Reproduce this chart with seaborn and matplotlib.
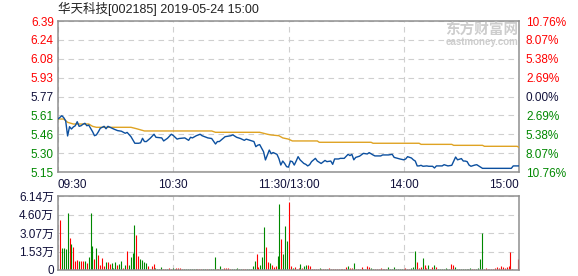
import numpy as np
import pandas as pd
import matplotlib
matplotlib.use("Agg")
import matplotlib.pyplot as plt
import seaborn as sns

# ---------------- data ----------------
title = "华天科技[002185] 2019-05-24 15:00"
prev_close = 5.77
price_ticks = [5.150, 5.305, 5.460, 5.615, 5.770, 5.925, 6.080, 6.235, 6.390]
price_tick_labels = ["5.15", "5.30", "5.46", "5.61", "5.77", "5.93", "6.08", "6.24", "6.39"]
pct_tick_labels = ["10.76%", "8.07%", "5.38%", "2.69%", "0.00%", "2.69%", "5.38%", "8.07%", "10.76%"]
time_ticks = [0, 60, 120, 180, 240]
time_labels = ["09:30", "10:30", "11:30/13:00", "14:00", "15:00"]
vol_ticks = [0, 1.535, 3.07, 4.605, 6.14]
vol_tick_labels = ["0", "1.53万", "3.07万", "4.60万", "6.14万"]

# minute index (0 = 09:30, 120 = 11:30/13:00, 240 = 15:00) and price
price_minute = [0, 2, 3, 4, 5, 6, 7, 8, 9, 10,
                11, 12, 13, 14, 15, 16, 18, 19, 20, 21,
                22, 24, 25, 26, 27, 29, 31, 33, 35, 36,
                38, 40, 42, 43, 44, 45, 46, 48, 50, 51,
                54, 55, 57, 59, 60, 62, 63, 66, 68, 69,
                70, 72, 74, 75, 78, 80, 82, 83, 84, 86,
                87, 90, 91, 93, 95, 97, 98, 100, 102, 103,
                104, 105, 107, 108, 109, 110, 111, 112, 114, 115,
                116, 117, 118, 119, 120, 121, 122, 123, 124, 125,
                126, 128, 129, 130, 131, 132, 134, 135, 137, 139,
                140, 142, 143, 144, 146, 147, 149, 151, 152, 153,
                154, 155, 157, 159, 161, 162, 164, 165, 168, 169,
                172, 174, 175, 178, 180, 181, 182, 184, 185, 186,
                187, 188, 189, 190, 192, 193, 195, 196, 197, 200,
                201, 203, 205, 206, 207, 208, 210, 211, 212, 213,
                214, 215, 217, 218, 219, 221, 236, 237, 240]
price_value = [5.585, 5.612, 5.596, 5.570, 5.446, 5.522, 5.503, 5.520, 5.530, 5.563,
               5.525, 5.530, 5.542, 5.550, 5.530, 5.535, 5.481, 5.448, 5.455, 5.480,
               5.509, 5.525, 5.505, 5.525, 5.518, 5.503, 5.490, 5.485, 5.468, 5.475,
               5.440, 5.386, 5.386, 5.390, 5.427, 5.400, 5.400, 5.427, 5.460, 5.435,
               5.430, 5.405, 5.427, 5.460, 5.450, 5.420, 5.425, 5.430, 5.410, 5.435,
               5.430, 5.448, 5.460, 5.448, 5.430, 5.425, 5.380, 5.400, 5.400, 5.427,
               5.440, 5.448, 5.455, 5.435, 5.425, 5.410, 5.420, 5.410, 5.400, 5.358,
               5.370, 5.375, 5.317, 5.249, 5.290, 5.330, 5.300, 5.310, 5.295, 5.260,
               5.207, 5.240, 5.220, 5.194, 5.190, 5.240, 5.235, 5.207, 5.240, 5.276,
               5.250, 5.220, 5.213, 5.200, 5.210, 5.235, 5.262, 5.240, 5.220, 5.245,
               5.235, 5.240, 5.213, 5.257, 5.257, 5.262, 5.262, 5.295, 5.285, 5.295,
               5.250, 5.270, 5.280, 5.303, 5.298, 5.309, 5.290, 5.282, 5.282, 5.290,
               5.290, 5.295, 5.270, 5.257, 5.250, 5.257, 5.276, 5.265, 5.250, 5.240,
               5.200, 5.200, 5.205, 5.197, 5.200, 5.197, 5.197, 5.183, 5.200, 5.200,
               5.210, 5.200, 5.205, 5.240, 5.273, 5.250, 5.260, 5.240, 5.240, 5.235,
               5.207, 5.197, 5.207, 5.210, 5.200, 5.180, 5.180, 5.200, 5.200]

# average price line
avg_minute = [0, 3, 5, 8, 16, 18, 20, 38, 41, 45, 80, 82, 105, 107, 109, 111,
              115, 117, 120, 122, 135, 136, 163, 164, 188, 189, 205, 206, 221, 222, 239, 240]
avg_value = [5.585, 5.585, 5.558, 5.544, 5.544, 5.525, 5.517, 5.517, 5.505, 5.487, 5.487, 5.476,
             5.476, 5.468, 5.460, 5.454, 5.448, 5.430, 5.420, 5.405, 5.405, 5.394, 5.394, 5.386,
             5.386, 5.377, 5.377, 5.369, 5.369, 5.361, 5.361, 5.353]

# volume per minute (万), 241 bars, and direction (r = up, g = down)
volume = [4.15, 1.80, 1.80, 1.71, 4.70, 2.63, 2.16, 1.88, 0.77, 0.83,
          0.75, 0.75, 0.75, 0.75, 0.55, 1.05, 4.70, 2.00, 0.91, 1.80,
          1.24, 0.41, 0.97, 0.33, 0.66, 0.66, 0.50, 0.55, 0.17, 0.66,
          0.39, 0.50, 0.75, 0.17, 0.39, 1.55, 0.45, 1.05, 1.38, 3.73,
          2.90, 1.16, 0.89, 0.80, 0.69, 0.55, 0.33, 0.08, 0.33, 0.50,
          0.17, 0.08, 0.08, 0.25, 0.08, 0.08, 0.08, 0.17, 0.08, 0.17,
          0.08, 0.17, 0.17, 0.17, 0.08, 0.08, 0.08, 0.08, 0.08, 0.08,
          0.08, 0.08, 0.08, 0.08, 0.08, 0.08, 0.08, 0.08, 0.08, 0.08,
          0.08, 1.08, 0.08, 0.08, 0.33, 0.08, 0.17, 0.17, 0.17, 0.08,
          0.08, 0.08, 0.08, 0.17, 0.08, 0.08, 0.08, 0.08, 0.08, 0.08,
          0.08, 0.33, 0.75, 1.33, 0.22, 0.41, 1.08, 3.60, 1.94, 0.69,
          0.58, 0.41, 0.28, 0.36, 1.16, 5.48, 2.57, 1.33, 3.65, 2.43,
          5.67, 0.33, 0.14, 0.22, 0.08, 0.17, 0.50, 0.17, 0.33, 0.41,
          0.41, 0.33, 0.08, 0.08, 0.08, 0.08, 0.17, 0.08, 0.08, 0.08,
          0.08, 0.17, 0.08, 0.08, 0.08, 0.08, 0.08, 0.08, 0.08, 0.08,
          0.25, 0.33, 0.17, 0.17, 0.58, 0.08, 0.08, 0.08, 0.25, 0.08,
          0.08, 0.33, 0.25, 0.17, 0.08, 0.08, 0.08, 0.08, 0.17, 0.08,
          0.08, 0.08, 0.25, 0.08, 0.08, 0.25, 0.08, 0.08, 0.08, 0.08,
          0.08, 0.17, 0.08, 0.08, 0.17, 0.28, 1.58, 0.66, 0.17, 0.25,
          1.00, 0.41, 0.17, 0.41, 0.08, 0.25, 0.41, 0.25, 0.08, 0.08,
          0.08, 0.08, 0.17, 0.08, 0.08, 0.50, 0.41, 0.25, 0.08, 0.08,
          0.08, 0.08, 0.08, 0.08, 0.08, 0.17, 0.08, 0.08, 0.08, 0.17,
          0.91, 3.10, 0.08, 0.17, 0.08, 0.08, 0.08, 0.08, 0.17, 0.25,
          0.17, 0.33, 0.25, 0.17, 0.25, 0.33, 1.49, 0.08, 0.00, 0.00,
          0.91]
direction = ("rggggrgrrr" "grrgrgggrg" "rrrrgrrggg" "rggrgrgggg" "rrggggrrrr"
             "ggggrrgrrg" "grrrrggggg" "ggrrrggrgg" "ggrrggrrrr" "ggggggrrgg"
             "gggrrgggrr" "grrrggrggg" "rrgrrrgrgg" "rrrrrrgrrr" "grrrrrrrrr"
             "rgrrgrrrrg" "rrrggrrrrr" "rrgggggggg" "rrrrgggrrr" "grrgrrgrgg"
             "gggggrrggg" "ggggggrrgg" "ggrrrrrrrr" "rrrrrrrrrr" "r")

# ---------------- style ----------------
sns.set_style("white")
plt.rcParams["font.family"] = ["Liberation Sans", "Noto Sans CJK SC"]

RED = "#FF0000"
GREEN = "#008800"
DARK = "#10103a"
SPINE = "#8f8f8f"
GRID = "#cfcfcf"

W, H = 578, 276
fig = plt.figure(figsize=(W / 100, H / 100), dpi=100)
fig.patch.set_facecolor("white")
ax1 = fig.add_axes([58 / W, 1 - 172 / H, 461 / W, 151 / H])
ax2 = fig.add_axes([58 / W, 1 - 270 / H, 461 / W, 74 / H])


def label_color(v):
    if abs(v - prev_close) < 1e-6:
        return DARK
    return RED if v > prev_close else GREEN


# ---------------- price panel ----------------
sns.lineplot(x=avg_minute, y=avg_value, ax=ax1, color="#DFA323", linewidth=1.0,
             estimator=None, sort=False, zorder=3)
sns.lineplot(x=price_minute, y=price_value, ax=ax1, color="#0B4F9F", linewidth=1.0,
             estimator=None, sort=False, zorder=4)
ax1.set_xlim(0, 240)
ax1.set_ylim(price_ticks[0], price_ticks[-1])
ax1.set_yticks(price_ticks)
ax1.set_yticklabels(price_tick_labels)
ax1.set_xticks(time_ticks)
ax1.set_xticklabels(time_labels)
ax1.set_xlabel("")
ax1.set_ylabel("")
ax1.tick_params(axis="both", length=0, labelsize=8.5)
ax1.tick_params(axis="y", pad=3)
ax1.tick_params(axis="x", pad=5, colors=DARK)
for lab, v in zip(ax1.get_yticklabels(), price_ticks):
    lab.set_color(label_color(v))
xl = ax1.get_xticklabels()
xl[0].set_ha("left")
xl[-1].set_ha("right")
ax1.grid(True, color=GRID, linestyle=(0, (5, 4)), linewidth=0.8)
for s in ax1.spines.values():
    s.set_visible(True)
    s.set_color(SPINE)
    s.set_linewidth(1.1)

ax1r = ax1.twinx()
ax1r.set_ylim(price_ticks[0], price_ticks[-1])
ax1r.set_yticks(price_ticks)
ax1r.set_yticklabels(pct_tick_labels)
ax1r.tick_params(axis="y", length=0, pad=5, labelsize=8.5)
for lab, v in zip(ax1r.get_yticklabels(), price_ticks):
    lab.set_color(label_color(v))
for s in ax1r.spines.values():
    s.set_visible(False)
ax1r.grid(False)

# ---------------- volume panel ----------------
vol_df = pd.DataFrame({"minute": np.arange(len(volume)), "vol": volume,
                       "dir": list(direction)})
bar_colors = vol_df["dir"].map({"r": RED, "g": GREEN}).tolist()
ax2.vlines(vol_df["minute"], 0, vol_df["vol"], colors=bar_colors,
           linewidth=0.8, antialiased=True, capstyle="butt", zorder=3)
x0, x1 = -1.05, 240.5
ax2.set_xlim(x0, x1)
ax2.set_ylim(0, vol_ticks[-1])
ax2.set_yticks(vol_ticks)
ax2.set_yticklabels(vol_tick_labels)
ax2.set_xticks([x0 + m / 240 * (x1 - x0) for m in time_ticks])
ax2.set_xticklabels([])
ax2.set_xlabel("")
ax2.set_ylabel("")
ax2.tick_params(axis="both", length=0, labelsize=8.5)
ax2.tick_params(axis="y", pad=3, colors=DARK)
ax2.grid(True, color=GRID, linestyle=(0, (5, 4)), linewidth=0.8, zorder=0)
ax2.set_axisbelow(True)
for s in ax2.spines.values():
    s.set_visible(True)
    s.set_color(SPINE)
    s.set_linewidth(1.1)
    s.set_zorder(5)

# ---------------- texts ----------------
fig.text(58 / W, 1 - 9 / H, title, ha="left", va="center", fontsize=9, color="#222222")
fig.text(518 / W, 1 - 31 / H, "东方财富网", ha="right", va="center", fontsize=10.5,
         fontweight="bold", color="#cdcdcd")
fig.text(518 / W, 1 - 42 / H, "eastmoney.com", ha="right", va="center", fontsize=7,
         fontweight="bold", color="#cdcdcd")

fig.savefig("out.png", dpi=100)
